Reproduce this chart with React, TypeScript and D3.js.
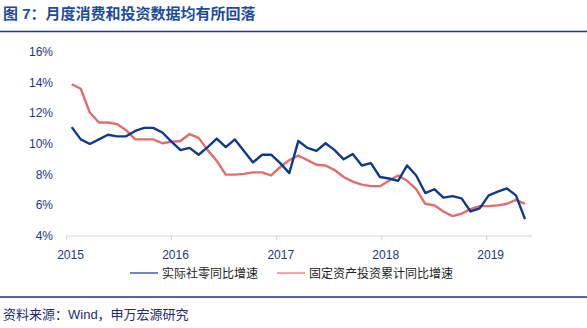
import React, { useEffect } from "react";
import * as d3 from "d3";

// monthly points, Feb 2015 .. Apr 2019
const months = d3.timeMonth.range(new Date(2015, 1, 1), new Date(2019, 4, 1));

const retailReal = [
  11.1, 10.3, 10.0, 10.3, 10.6, 10.5, 10.5, 10.85, 11.05, 11.05, 10.75,
  10.15, 9.6, 9.75, 9.3, 9.8, 10.35, 9.8, 10.3, 9.55, 8.8, 9.3, 9.3,
  8.75, 8.1, 10.2, 9.75, 9.55, 10.05, 9.6, 9.0, 9.35, 8.6, 8.75, 7.85,
  7.75, 7.6, 8.6, 7.95, 6.8, 7.05, 6.5, 6.6, 6.45, 5.6, 5.8, 6.65,
  6.9, 7.1, 6.65, 5.1,
];

const faiCumulative = [
  13.9, 13.6, 12.05, 11.4, 11.4, 11.3, 10.9, 10.3, 10.3, 10.3, 10.05,
  10.15, 10.2, 10.65, 10.4, 9.6, 8.9, 8.0, 8.0, 8.05, 8.15, 8.15, 7.95,
  8.5, 8.95, 9.25, 8.95, 8.65, 8.6, 8.3, 7.85, 7.55, 7.35, 7.25, 7.25,
  7.6, 7.95, 7.6, 7.05, 6.1, 6.0, 5.6, 5.3, 5.45, 5.75, 5.95, 5.95,
  6.0, 6.1, 6.35, 6.1,
];

const yTicks = [4, 6, 8, 10, 12, 14, 16];
const yearTicks = [2015, 2016, 2017, 2018, 2019];

const seriesNames = ["实际社零同比增速", "固定资产投资累计同比增速"];
const seriesColors = ["#0e3a8c", "#e06e6c"];

const W = 587;
const H = 328;
const FONT = "'Liberation Sans', Arial, 'Noto Sans CJK SC', sans-serif";
const AXIS_TEXT = "#1f3585";

export default function App() {
  useEffect(() => {
    document.body.style.margin = "0";
  }, []);

  const y = d3.scaleLinear().domain([4, 16]).range([236, 52]);
  const x = d3
    .scaleLinear()
    .domain([0, months.length - 1])
    .range([71.7, 525]);
  const xYear = d3
    .scaleTime()
    .domain([new Date(2015, 0, 1), new Date(2019, 0, 1)])
    .range([66.5, 486.7]);

  const line = d3
    .line<number>()
    .x((_, i) => x(i))
    .y((d) => y(d));

  const axisEnd = x(months.length - 1) + 7;

  return (
    <svg width={W} height={H} style={{ display: "block" }} fontFamily={FONT}>
      <rect width={W} height={H} fill="#fff" />

      {/* title */}
      <text x={3} y={19} fontSize={15} fontWeight="bold" fill="#1d4c9c">
        图 7：月度消费和投资数据均有所回落
      </text>
      <line x1={0} x2={W} y1={31.5} y2={31.5} stroke="#1b3a7e" strokeWidth={1.6} />

      {/* y labels */}
      {yTicks.map((t) => (
        <text
          key={t}
          x={53}
          y={y(t)}
          textAnchor="end"
          dominantBaseline="central"
          fontSize={12}
          fill={AXIS_TEXT}
        >
          {t}%
        </text>
      ))}

      {/* x axis */}
      <line
        x1={xYear.range()[0]}
        x2={axisEnd}
        y1={y(4)}
        y2={y(4)}
        stroke="#d6d6d6"
        strokeWidth={1.2}
      />
      {yearTicks.map((yr) => {
        const px = xYear(new Date(yr, 0, 1));
        return (
          <g key={yr}>
            <line
              x1={px}
              x2={px}
              y1={y(4)}
              y2={y(4) + 4}
              stroke="#d6d6d6"
              strokeWidth={1.2}
            />
            <text
              x={px + 4}
              y={259}
              textAnchor="middle"
              fontSize={12}
              fill={AXIS_TEXT}
            >
              {yr}
            </text>
          </g>
        );
      })}

      {/* series */}
      <path
        d={line(faiCumulative) ?? ""}
        fill="none"
        stroke={seriesColors[1]}
        strokeWidth={2.4}
        strokeLinejoin="round"
      />
      <path
        d={line(retailReal) ?? ""}
        fill="none"
        stroke={seriesColors[0]}
        strokeWidth={2.4}
        strokeLinejoin="round"
      />

      {/* legend */}
      {seriesNames.map((name, i) => {
        const lx = i === 0 ? 130 : 277;
        return (
          <g key={name}>
            <line
              x1={lx}
              x2={lx + 28}
              y1={273}
              y2={273}
              stroke={seriesColors[i]}
              strokeOpacity={0.6}
              strokeWidth={2}
            />
            <text x={lx + 32} y={277.5} fontSize={12} fill="#222">
              {name}
            </text>
          </g>
        );
      })}

      {/* source */}
      <line x1={0} x2={W} y1={297} y2={297} stroke="#2a2e80" strokeWidth={1.4} />
      <text x={3} y={319} fontSize={13} fill="#1f2a78">
        资料来源：Wind，申万宏源研究
      </text>
    </svg>
  );
}
